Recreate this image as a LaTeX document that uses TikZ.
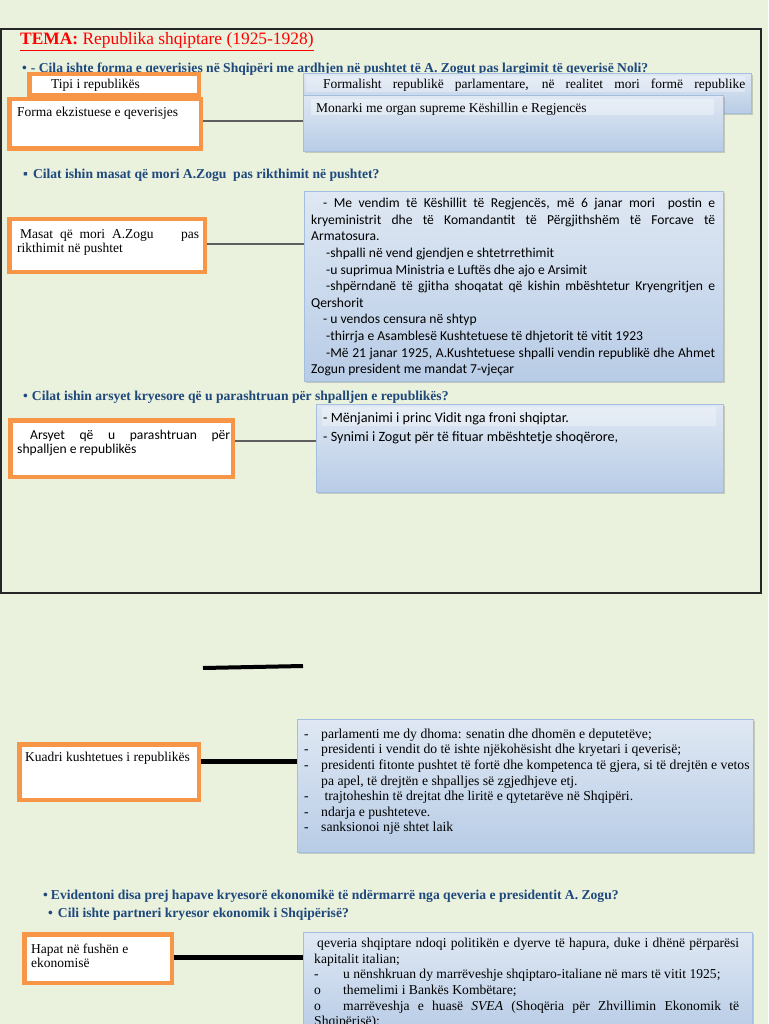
\documentclass[tikz,border=0pt]{standalone}
\usepackage{fontspec}
\setmainfont{Liberation Serif}
\newfontfamily\calibri{Carlito}
\usepackage{tikz}
\usetikzlibrary{shadows}
\definecolor{pagebg}{HTML}{EAF1DD}
\definecolor{qblue}{HTML}{1F497D}
\definecolor{boxorange}{HTML}{F79646}
\definecolor{listtop}{HTML}{DFE8F3}
\definecolor{listbot}{HTML}{B8CCE6}
\definecolor{listedge}{HTML}{A3BEDF}
\definecolor{linkgray}{HTML}{5F5F5F}

\begin{document}
\begin{tikzpicture}[x=1pt,y=-1pt,
  obox/.style={draw=boxorange,line width=4.5pt,fill=white,anchor=north west,inner sep=0pt},
  lbox/.style={draw=listedge,line width=.8pt,top color=listtop,bottom color=listbot,anchor=north west,inner sep=0pt,
    drop shadow={shadow xshift=1.6pt,shadow yshift=-1.8pt,opacity=.35}},
  ques/.style={anchor=base west,inner sep=0pt,text=qblue,font=\fontsize{13.6}{16}\selectfont\bfseries},
  stxt/.style={anchor=base west,inner sep=0pt,font=\fontsize{13.5}{14}\selectfont},
  mtxt/.style={anchor=north west,inner sep=0pt,align=left,font=\fontsize{13.5}{14}\selectfont,execute at begin node=\strut},
  ctxt/.style={anchor=north west,inner sep=0pt,font=\calibri\fontsize{13.6}{16.6}\selectfont,execute at begin node=\strut},
  glink/.style={draw=linkgray,line width=1.3pt},
  blink/.style={draw=black,line width=5pt}]
  \useasboundingbox (0,0) rectangle (768,1024);
  \clip (0,0) rectangle (768,1024);
  \fill[pagebg] (0,0) rectangle (768,1024);
  \draw[line width=1.3pt,black!85] (1,29) rectangle (761,593);

  \node[anchor=base west,inner sep=0pt,text=red,font=\fontsize{17.4}{20}\selectfont] (tema) at (20,45)
    {\underline{\textbf{TEMA:} Republika shqiptare (1925-1928)}};
  \node[ques] (q1) at (22,73) {•\hspace{4pt}- Cila ishte forma e qeverisjes në Shqipëri me ardhjen në pushtet të A. Zogut pas largimit të qeverisë Noli?};
  \node[ques] (q2) at (23,179) {▪\hspace{5pt}Cilat ishin masat që mori A.Zogu\ \ pas rikthimit në pushtet?};
  \node[ques] (q3) at (23,400) {•\hspace{4pt}Cilat ishin arsyet kryesore që u parashtruan për shpalljen e republikës?};
  \node[ques] (q4) at (43,899) {•\hspace{3pt}Evidentoni disa prej hapave kryesorë ekonomikë të ndërmarrë nga qeveria e presidentit A. Zogu?};
  \node[ques] (q5) at (48,917) {•\hspace{5pt}Cili ishte partneri kryesor ekonomik i Shqipërisë?};

  \node[lbox,minimum width=448pt,minimum height=40pt] (formal) at (303,73) {};
  \fill[white,opacity=.3] (306,76) rectangle (745,92);
  \node[stxt] (formaltxt) at (323,89) {\makebox[422pt][s]{Formalisht republikë parlamentare, në realitet mori formë republike}};
  \node[lbox,minimum width=420pt,minimum height=56pt] (monarki) at (303,95) {};
  \fill[white,opacity=.35] (311,99) rectangle (714,115);
  \node[stxt] (monarkitxt) at (316,113) {Monarki me organ supreme Këshillin e Regjencës};
  \node[obox,minimum width=169.5pt,minimum height=21.5pt] (tipi) at (27,72) {};
  \node[stxt] (tipitxt) at (51,89) {Tipi i republikës};
  \node[obox,minimum width=191.5pt,minimum height=49.5pt] (forma) at (7,97) {};
  \node[stxt] (formatxt) at (17,117) {Forma ekzistuese e qeverisjes};
  \draw[glink] ([yshift=3pt]forma.east) -- ([yshift=3pt]forma.east -| monarki.west);

  \node[lbox,minimum width=419pt,minimum height=190pt] (masatlist) at (304,191) {};
  \node[ctxt,text width=404pt,align=justify] (masatlisttxt) at (311,195.9) {%
    \hspace*{12pt}- Me vendim të Këshillit të Regjencës, më 6 janar mori\ \ postin e\linebreak
    kryeministrit dhe të Komandantit të Përgjithshëm të Forcave të\linebreak
    Armatosura.\par
    \hspace*{15pt}-shpalli në vend gjendjen e shtetrrethimit\par
    \hspace*{15pt}-u suprimua Ministria e Luftës dhe ajo e Arsimit\par
    \hspace*{15pt}-shpërndanë të gjitha shoqatat që kishin mbështetur Kryengritjen e\linebreak
    Qershorit\par
    \hspace*{12pt}- u vendos censura në shtyp\par
    \hspace*{15pt}-thirrja e Asamblesë Kushtetuese të dhjetorit të vitit 1923\par
    \hspace*{15pt}-Më 21 janar 1925, A.Kushtetuese shpalli vendin republikë dhe Ahmet\linebreak
    Zogun president me mandat 7-vjeçar};
  \node[obox,minimum width=195.5pt,minimum height=52.5pt] (masat) at (7,217) {};
  \node[mtxt] (masattxt) at (17,229.5) {\hspace*{3pt}\makebox[179pt][s]{Masat që mori A.Zogu\ \ \ \ pas}\\rikthimit në pushtet};
  \draw[glink] ([yshift=1.5pt]masat.east) -- ([yshift=1.5pt]masat.east -| masatlist.west);

  \node[lbox,minimum width=407pt,minimum height=88pt] (arsyetlist) at (316,404) {};
  \fill[white,opacity=.3] (322,407) rectangle (716,426);
  \node[anchor=base west,inner sep=0pt,font=\calibri\fontsize{14.2}{17}\selectfont] (arsyet1) at (323,422)
    {- Mënjanimi i princ Vidit nga froni shqiptar.};
  \node[anchor=base west,inner sep=0pt,font=\calibri\fontsize{14.2}{17}\selectfont] (arsyet2) at (323,441.5)
    {- Synimi i Zogut për të fituar mbështetje shoqërore,};
  \node[obox,minimum width=222.5pt,minimum height=56.5pt] (arsyet) at (8,418) {};
  \node[ctxt,font=\calibri\fontsize{13.6}{14}\selectfont,align=left] (arsyettxt) at (17,429.5)
    {\hspace*{13pt}\makebox[200pt][s]{Arsyet që u parashtruan për}\\shpalljen e republikës};
  \draw[glink] ([yshift=7.5pt]arsyet.east) -- ([yshift=7.5pt]arsyet.east -| arsyetlist.west);

  \coordinate (barL) at (203,668);
  \coordinate (barR) at (303,666);
  \draw[line width=4pt] (barL) -- (barR);

  \node[lbox,minimum width=456pt,minimum height=133pt] (kuadrilist) at (297,719) {};
  \node[mtxt,font=\fontsize{13.7}{15.6}\selectfont] (kuadrilisttxt) at (304,728.6) {%
    \makebox[17pt][l]{-}parlamenti me dy dhoma: senatin dhe dhomën e deputetëve;\\
    \makebox[17pt][l]{-}presidenti i vendit do të ishte njëkohësisht dhe kryetari i qeverisë;\\
    \makebox[17pt][l]{-}presidenti fitonte pushtet të fortë dhe kompetenca të gjera, si të drejtën e vetos\\
    \hspace*{17pt}pa apel, të drejtën e shpalljes së zgjedhjeve etj.\\
    \makebox[17pt][l]{-}\ trajtoheshin të drejtat dhe liritë e qytetarëve në Shqipëri.\\
    \makebox[17pt][l]{-}ndarja e pushteteve.\\
    \makebox[17pt][l]{-}sanksionoi një shtet laik};
  \node[obox,minimum width=179.5pt,minimum height=55.5pt] (kuadri) at (17,742) {};
  \node[stxt] (kuadritxt) at (25,761) {Kuadri kushtetues i republikës};
  \draw[blink] ([yshift=11pt]kuadri.east) -- ([yshift=11pt]kuadri.east -| kuadrilist.west);

  \node[lbox,minimum width=449pt,minimum height=100pt] (hapatlist) at (303,932) {};
  \node[mtxt,text width=425pt,align=justify,font=\fontsize{13.6}{15.6}\selectfont] (hapatlisttxt) at (314,936.6) {%
    \hspace*{3pt}qeveria shqiptare ndoqi politikën e dyerve të hapura, duke i dhënë përparësi\linebreak
    kapitalit italian;\par
    \makebox[29pt][l]{-}u nënshkruan dy marrëveshje shqiptaro-italiane në mars të vitit 1925;\par
    \makebox[29pt][l]{o}themelimi i Bankës Kombëtare;\par
    \makebox[29pt][l]{o}marrëveshja e huasë \textit{SVEA} (Shoqëria për Zhvillimin Ekonomik të\linebreak
    Shqipërisë);};
  \node[obox,minimum width=147.5pt,minimum height=48.5pt] (hapat) at (22,932) {};
  \node[mtxt] (hapattxt) at (31,944) {Hapat në fushën e\\ekonomisë};
  \draw[blink] ([yshift=1.5pt]hapat.east) -- ([yshift=1.5pt]hapat.east -| hapatlist.west);
\end{tikzpicture}
\end{document}
